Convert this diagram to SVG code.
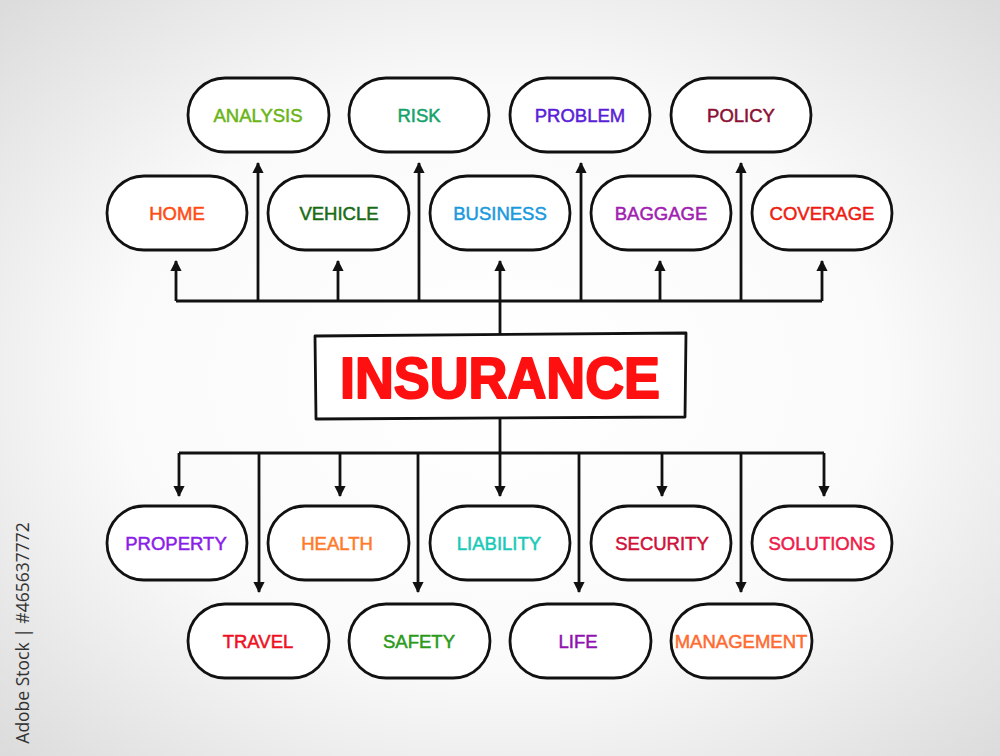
<svg xmlns="http://www.w3.org/2000/svg" width="1000" height="756" viewBox="0 0 1000 756">
<defs>
<radialGradient id="bg" cx="50%" cy="50%" r="70%">
<stop offset="0" stop-color="#ffffff"/>
<stop offset="0.55" stop-color="#fafafa"/>
<stop offset="1" stop-color="#dcdcdc"/>
</radialGradient>
<marker id="ah" viewBox="0 0 10 10" refX="9" refY="5" markerWidth="4.6" markerHeight="4" orient="auto" markerUnits="strokeWidth">
<path d="M0,0 L10,5 L0,10 z" fill="#111"/>
</marker>
<style>
.pill{fill:#fff;stroke:#111;stroke-width:2.8}
.lbl{font-family:"Liberation Sans",Arial,sans-serif;font-size:18.5px;text-anchor:middle;dominant-baseline:central;stroke-width:0.5;paint-order:stroke}
.ln{fill:none;stroke:#111;stroke-width:2.8}
.ar{fill:none;stroke:#111;stroke-width:2.8;marker-end:url(#ah)}
</style>
</defs>
<rect width="1000" height="756" fill="url(#bg)"/>
<text x="22" y="633" transform="rotate(-90 22 633)" font-family="'Open Sans','Liberation Sans',sans-serif" font-size="17.5" fill="#333" text-anchor="middle" dominant-baseline="central">Adobe Stock | #465637772</text>

<g id="connectors">
<path class="ln" d="M500,334 V301 M176,301 H822"/>
<path class="ar" d="M176,301 V261"/>
<path class="ar" d="M338,301 V261"/>
<path class="ar" d="M500,301 V261"/>
<path class="ar" d="M660,301 V261"/>
<path class="ar" d="M822,301 V261"/>
<path class="ar" d="M258,301 V163"/>
<path class="ar" d="M419,301 V163"/>
<path class="ar" d="M581,301 V163"/>
<path class="ar" d="M741,301 V163"/>
<path class="ln" d="M500,419 V453 M179,453 H824"/>
<path class="ar" d="M179,453 V496"/>
<path class="ar" d="M340,453 V496"/>
<path class="ar" d="M500,453 V496"/>
<path class="ar" d="M662,453 V496"/>
<path class="ar" d="M824,453 V496"/>
<path class="ar" d="M259,453 V592"/>
<path class="ar" d="M418,453 V592"/>
<path class="ar" d="M579,453 V592"/>
<path class="ar" d="M741,453 V592"/>
</g>

<g id="insurance">
<polygon points="315,336 686,333 685,417 316,419" fill="#fff" stroke="#111" stroke-width="2.8" stroke-linejoin="round"/>
<text x="500" y="378" font-family="'Liberation Sans',Arial,sans-serif" font-weight="bold" font-size="57" fill="#ff1010" stroke="#ff1010" stroke-width="2" stroke-linejoin="round" text-anchor="middle" dominant-baseline="central" textLength="320" lengthAdjust="spacingAndGlyphs">INSURANCE</text>
</g>

<g id="analysis"><rect class="pill" x="188" y="78" width="141" height="74" rx="37"/><text class="lbl" x="258" y="115" fill="#6ab417" stroke="#6ab417">ANALYSIS</text></g>
<g id="risk"><rect class="pill" x="349" y="78" width="140" height="74" rx="37"/><text class="lbl" x="419" y="115" fill="#16a36a" stroke="#16a36a">RISK</text></g>
<g id="problem"><rect class="pill" x="510" y="78" width="140" height="74" rx="37"/><text class="lbl" x="580" y="115" fill="#5a1ed6" stroke="#5a1ed6">PROBLEM</text></g>
<g id="policy"><rect class="pill" x="671" y="78" width="140" height="74" rx="37"/><text class="lbl" x="741" y="115" fill="#8c1034" stroke="#8c1034">POLICY</text></g>

<g id="home"><rect class="pill" x="107" y="176" width="140" height="74" rx="37"/><text class="lbl" x="177" y="213" fill="#ff4a12" stroke="#ff4a12">HOME</text></g>
<g id="vehicle"><rect class="pill" x="268" y="176" width="141" height="74" rx="37"/><text class="lbl" x="339" y="213" fill="#1a6b14" stroke="#1a6b14">VEHICLE</text></g>
<g id="business"><rect class="pill" x="430" y="176" width="140" height="74" rx="37"/><text class="lbl" x="500" y="213" fill="#1a9adc" stroke="#1a9adc">BUSINESS</text></g>
<g id="baggage"><rect class="pill" x="591" y="176" width="140" height="74" rx="37"/><text class="lbl" x="661" y="213" fill="#a020b0" stroke="#a020b0">BAGGAGE</text></g>
<g id="coverage"><rect class="pill" x="752" y="176" width="140" height="74" rx="37"/><text class="lbl" x="822" y="213" fill="#ee1c10" stroke="#ee1c10">COVERAGE</text></g>

<g id="property"><rect class="pill" x="107" y="506" width="140" height="74" rx="37"/><text class="lbl" x="176" y="543" fill="#8a1ee8" stroke="#8a1ee8">PROPERTY</text></g>
<g id="health"><rect class="pill" x="268" y="506" width="141" height="74" rx="37"/><text class="lbl" x="337" y="543" fill="#ff7a2a" stroke="#ff7a2a">HEALTH</text></g>
<g id="liability"><rect class="pill" x="430" y="506" width="140" height="74" rx="37"/><text class="lbl" x="499" y="543" fill="#19c9b8" stroke="#19c9b8">LIABILITY</text></g>
<g id="security"><rect class="pill" x="591" y="506" width="140" height="74" rx="37"/><text class="lbl" x="662" y="543" fill="#d0103a" stroke="#d0103a">SECURITY</text></g>
<g id="solutions"><rect class="pill" x="752" y="506" width="140" height="74" rx="37"/><text class="lbl" x="822" y="543" fill="#ee1a4a" stroke="#ee1a4a">SOLUTIONS</text></g>

<g id="travel"><rect class="pill" x="188" y="604" width="141" height="74" rx="37"/><text class="lbl" x="258" y="641" fill="#ee1020" stroke="#ee1020">TRAVEL</text></g>
<g id="safety"><rect class="pill" x="349" y="604" width="141" height="74" rx="37"/><text class="lbl" x="419" y="641" fill="#2a9a18" stroke="#2a9a18">SAFETY</text></g>
<g id="life"><rect class="pill" x="510" y="604" width="141" height="74" rx="37"/><text class="lbl" x="578" y="641" fill="#9012b0" stroke="#9012b0">LIFE</text></g>
<g id="management"><rect class="pill" x="671" y="604" width="141" height="74" rx="37"/><text class="lbl" x="741" y="641" fill="#ff6a30" stroke="#ff6a30">MANAGEMENT</text></g>
</svg>
